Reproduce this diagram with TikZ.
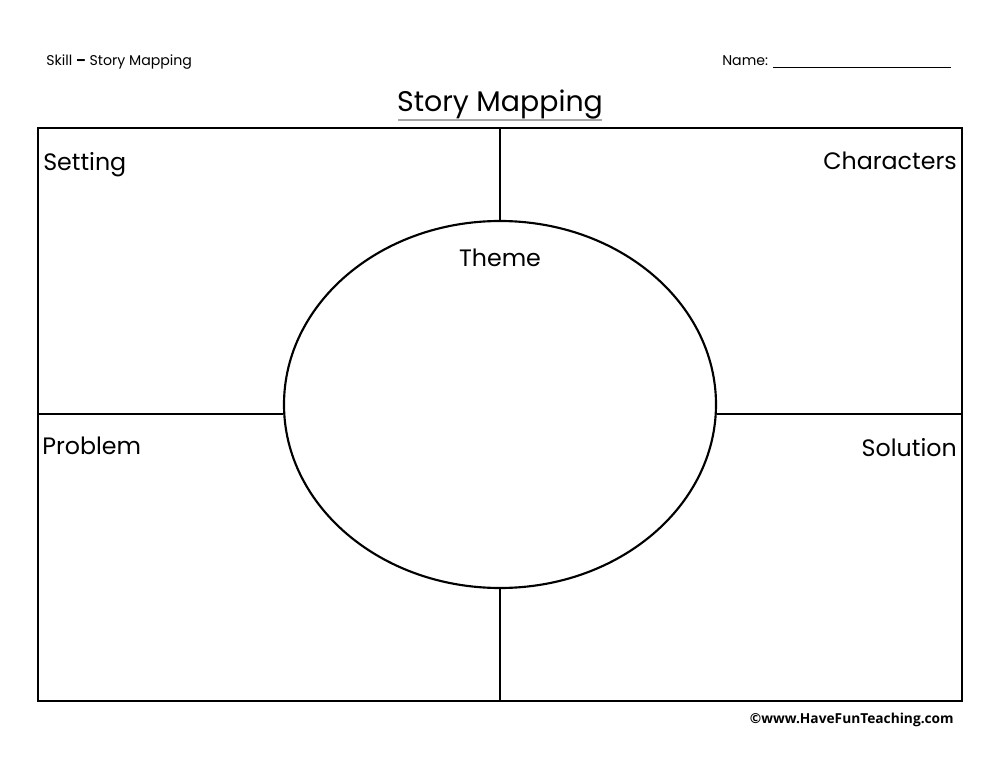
\documentclass[tikz,border=0pt]{standalone}
\usepackage{fontspec}
\usetikzlibrary{shapes.geometric}
\setmainfont{Poppins}
\newfontfamily\footfont{Open Sans}
\begin{document}
\begin{tikzpicture}[x=0.75pt,y=-0.75pt,
  frame/.style={line width=2.2pt,black},
  lbl/.style={inner sep=0pt,font=\fontsize{17.8}{21}\selectfont},
  hdr/.style={inner sep=0pt,font=\fontsize{10.6}{12}\selectfont}]
\useasboundingbox[fill=white] (0,0) rectangle (1000,773);
% header
\node[hdr,anchor=base west] (skill) at (46,66) {Skill \textbf{–} Story Mapping};
\node[hdr,anchor=base west] (name) at (722,66) {Name:};
\coordinate (ns) at (773,67.5);
\coordinate (ne) at (951,67.5);
\draw[line width=0.6pt] (ns) -- (ne);
% title
\node[inner sep=0pt,anchor=base,font=\fontsize{21.3}{26}\selectfont] (title) at (500,112) {Story Mapping};
\draw[gray!70,line width=0.8pt] (398,120) -- (602,120);
% frame
\draw[frame] (38,128) rectangle (962,701);
\node[draw,line width=1.6pt,ellipse,minimum width=324pt,minimum height=275.25pt,inner sep=0pt] (ell) at (500,404.5) {};
\coordinate (tm) at (500,128);
\coordinate (bm) at (500,701);
\coordinate (lm) at (38,414);
\coordinate (rm) at (962,414);
\draw[frame] (tm) -- (ell.north);
\draw[frame] (bm) -- (ell.south);
\draw[frame] (lm) -- (lm -| ell.west);
\draw[frame] (rm) -- (rm -| ell.east);
% labels
\node[lbl,anchor=base west] (setting) at (43,171) {Setting};
\node[lbl,anchor=base east] (chars) at (957,170) {Characters};
\node[lbl,anchor=base] (theme) at (500,267) {Theme};
\node[lbl,anchor=base west] (problem) at (42,455) {Problem};
\node[lbl,anchor=base east] (solution) at (957,457) {Solution};
% footer
\node[inner sep=0pt,anchor=base east,font=\footfont\bfseries\fontsize{10.3}{12}\selectfont] (foot) at (954,723) {©www.HaveFunTeaching.com};
\end{tikzpicture}
\end{document}
